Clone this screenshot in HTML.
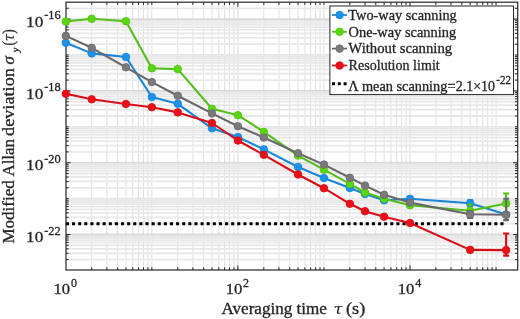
<!DOCTYPE html>
<html><head><meta charset="utf-8"><style>
html,body{margin:0;padding:0;background:#fff;}
body{width:520px;height:319px;overflow:hidden;position:relative;}
svg{position:absolute;left:0;top:0;}
</style></head><body>
<svg width="520" height="319" viewBox="0 0 520 319">
<rect x="0" y="0" width="520" height="319" fill="#fff"/>
<line x1="91.70" y1="2.2" x2="91.70" y2="270.0" stroke="#e0e0e0" stroke-width="1.0"/>
<line x1="106.86" y1="2.2" x2="106.86" y2="270.0" stroke="#e0e0e0" stroke-width="1.0"/>
<line x1="117.61" y1="2.2" x2="117.61" y2="270.0" stroke="#e0e0e0" stroke-width="1.0"/>
<line x1="125.95" y1="2.2" x2="125.95" y2="270.0" stroke="#e0e0e0" stroke-width="1.0"/>
<line x1="132.76" y1="2.2" x2="132.76" y2="270.0" stroke="#e0e0e0" stroke-width="1.0"/>
<line x1="138.52" y1="2.2" x2="138.52" y2="270.0" stroke="#e0e0e0" stroke-width="1.0"/>
<line x1="143.51" y1="2.2" x2="143.51" y2="270.0" stroke="#e0e0e0" stroke-width="1.0"/>
<line x1="147.91" y1="2.2" x2="147.91" y2="270.0" stroke="#e0e0e0" stroke-width="1.0"/>
<line x1="151.85" y1="2.2" x2="151.85" y2="270.0" stroke="#e0e0e0" stroke-width="1.0"/>
<line x1="177.75" y1="2.2" x2="177.75" y2="270.0" stroke="#e0e0e0" stroke-width="1.0"/>
<line x1="192.91" y1="2.2" x2="192.91" y2="270.0" stroke="#e0e0e0" stroke-width="1.0"/>
<line x1="203.66" y1="2.2" x2="203.66" y2="270.0" stroke="#e0e0e0" stroke-width="1.0"/>
<line x1="212.00" y1="2.2" x2="212.00" y2="270.0" stroke="#e0e0e0" stroke-width="1.0"/>
<line x1="218.81" y1="2.2" x2="218.81" y2="270.0" stroke="#e0e0e0" stroke-width="1.0"/>
<line x1="224.57" y1="2.2" x2="224.57" y2="270.0" stroke="#e0e0e0" stroke-width="1.0"/>
<line x1="229.56" y1="2.2" x2="229.56" y2="270.0" stroke="#e0e0e0" stroke-width="1.0"/>
<line x1="233.96" y1="2.2" x2="233.96" y2="270.0" stroke="#e0e0e0" stroke-width="1.0"/>
<line x1="237.90" y1="2.2" x2="237.90" y2="270.0" stroke="#dadada" stroke-width="1.0"/>
<line x1="263.80" y1="2.2" x2="263.80" y2="270.0" stroke="#e0e0e0" stroke-width="1.0"/>
<line x1="278.96" y1="2.2" x2="278.96" y2="270.0" stroke="#e0e0e0" stroke-width="1.0"/>
<line x1="289.71" y1="2.2" x2="289.71" y2="270.0" stroke="#e0e0e0" stroke-width="1.0"/>
<line x1="298.05" y1="2.2" x2="298.05" y2="270.0" stroke="#e0e0e0" stroke-width="1.0"/>
<line x1="304.86" y1="2.2" x2="304.86" y2="270.0" stroke="#e0e0e0" stroke-width="1.0"/>
<line x1="310.62" y1="2.2" x2="310.62" y2="270.0" stroke="#e0e0e0" stroke-width="1.0"/>
<line x1="315.61" y1="2.2" x2="315.61" y2="270.0" stroke="#e0e0e0" stroke-width="1.0"/>
<line x1="320.01" y1="2.2" x2="320.01" y2="270.0" stroke="#e0e0e0" stroke-width="1.0"/>
<line x1="323.95" y1="2.2" x2="323.95" y2="270.0" stroke="#e0e0e0" stroke-width="1.0"/>
<line x1="349.85" y1="2.2" x2="349.85" y2="270.0" stroke="#e0e0e0" stroke-width="1.0"/>
<line x1="365.01" y1="2.2" x2="365.01" y2="270.0" stroke="#e0e0e0" stroke-width="1.0"/>
<line x1="375.76" y1="2.2" x2="375.76" y2="270.0" stroke="#e0e0e0" stroke-width="1.0"/>
<line x1="384.10" y1="2.2" x2="384.10" y2="270.0" stroke="#e0e0e0" stroke-width="1.0"/>
<line x1="390.91" y1="2.2" x2="390.91" y2="270.0" stroke="#e0e0e0" stroke-width="1.0"/>
<line x1="396.67" y1="2.2" x2="396.67" y2="270.0" stroke="#e0e0e0" stroke-width="1.0"/>
<line x1="401.66" y1="2.2" x2="401.66" y2="270.0" stroke="#e0e0e0" stroke-width="1.0"/>
<line x1="406.06" y1="2.2" x2="406.06" y2="270.0" stroke="#e0e0e0" stroke-width="1.0"/>
<line x1="410.00" y1="2.2" x2="410.00" y2="270.0" stroke="#dadada" stroke-width="1.0"/>
<line x1="435.90" y1="2.2" x2="435.90" y2="270.0" stroke="#e0e0e0" stroke-width="1.0"/>
<line x1="451.06" y1="2.2" x2="451.06" y2="270.0" stroke="#e0e0e0" stroke-width="1.0"/>
<line x1="461.81" y1="2.2" x2="461.81" y2="270.0" stroke="#e0e0e0" stroke-width="1.0"/>
<line x1="470.15" y1="2.2" x2="470.15" y2="270.0" stroke="#e0e0e0" stroke-width="1.0"/>
<line x1="476.96" y1="2.2" x2="476.96" y2="270.0" stroke="#e0e0e0" stroke-width="1.0"/>
<line x1="482.72" y1="2.2" x2="482.72" y2="270.0" stroke="#e0e0e0" stroke-width="1.0"/>
<line x1="487.71" y1="2.2" x2="487.71" y2="270.0" stroke="#e0e0e0" stroke-width="1.0"/>
<line x1="492.11" y1="2.2" x2="492.11" y2="270.0" stroke="#e0e0e0" stroke-width="1.0"/>
<line x1="496.05" y1="2.2" x2="496.05" y2="270.0" stroke="#e0e0e0" stroke-width="1.0"/>
<line x1="66.0" y1="259.59" x2="517.7" y2="259.59" stroke="#e8e8e8" stroke-width="1.8"/>
<line x1="66.0" y1="253.27" x2="517.7" y2="253.27" stroke="#e8e8e8" stroke-width="1.8"/>
<line x1="66.0" y1="248.79" x2="517.7" y2="248.79" stroke="#e8e8e8" stroke-width="1.8"/>
<line x1="66.0" y1="245.31" x2="517.7" y2="245.31" stroke="#e8e8e8" stroke-width="1.8"/>
<line x1="66.0" y1="242.46" x2="517.7" y2="242.46" stroke="#e8e8e8" stroke-width="1.8"/>
<line x1="66.0" y1="240.06" x2="517.7" y2="240.06" stroke="#e8e8e8" stroke-width="1.8"/>
<line x1="66.0" y1="237.98" x2="517.7" y2="237.98" stroke="#e8e8e8" stroke-width="1.8"/>
<line x1="66.0" y1="236.14" x2="517.7" y2="236.14" stroke="#e8e8e8" stroke-width="1.8"/>
<line x1="66.0" y1="234.50" x2="517.7" y2="234.50" stroke="#dadada" stroke-width="1.8"/>
<line x1="66.0" y1="223.69" x2="517.7" y2="223.69" stroke="#e8e8e8" stroke-width="1.8"/>
<line x1="66.0" y1="217.37" x2="517.7" y2="217.37" stroke="#e8e8e8" stroke-width="1.8"/>
<line x1="66.0" y1="212.89" x2="517.7" y2="212.89" stroke="#e8e8e8" stroke-width="1.8"/>
<line x1="66.0" y1="209.41" x2="517.7" y2="209.41" stroke="#e8e8e8" stroke-width="1.8"/>
<line x1="66.0" y1="206.56" x2="517.7" y2="206.56" stroke="#e8e8e8" stroke-width="1.8"/>
<line x1="66.0" y1="204.16" x2="517.7" y2="204.16" stroke="#e8e8e8" stroke-width="1.8"/>
<line x1="66.0" y1="202.08" x2="517.7" y2="202.08" stroke="#e8e8e8" stroke-width="1.8"/>
<line x1="66.0" y1="200.24" x2="517.7" y2="200.24" stroke="#e8e8e8" stroke-width="1.8"/>
<line x1="66.0" y1="198.60" x2="517.7" y2="198.60" stroke="#e8e8e8" stroke-width="1.8"/>
<line x1="66.0" y1="187.79" x2="517.7" y2="187.79" stroke="#e8e8e8" stroke-width="1.8"/>
<line x1="66.0" y1="181.47" x2="517.7" y2="181.47" stroke="#e8e8e8" stroke-width="1.8"/>
<line x1="66.0" y1="176.99" x2="517.7" y2="176.99" stroke="#e8e8e8" stroke-width="1.8"/>
<line x1="66.0" y1="173.51" x2="517.7" y2="173.51" stroke="#e8e8e8" stroke-width="1.8"/>
<line x1="66.0" y1="170.66" x2="517.7" y2="170.66" stroke="#e8e8e8" stroke-width="1.8"/>
<line x1="66.0" y1="168.26" x2="517.7" y2="168.26" stroke="#e8e8e8" stroke-width="1.8"/>
<line x1="66.0" y1="166.18" x2="517.7" y2="166.18" stroke="#e8e8e8" stroke-width="1.8"/>
<line x1="66.0" y1="164.34" x2="517.7" y2="164.34" stroke="#e8e8e8" stroke-width="1.8"/>
<line x1="66.0" y1="162.70" x2="517.7" y2="162.70" stroke="#dadada" stroke-width="1.8"/>
<line x1="66.0" y1="151.89" x2="517.7" y2="151.89" stroke="#e8e8e8" stroke-width="1.8"/>
<line x1="66.0" y1="145.57" x2="517.7" y2="145.57" stroke="#e8e8e8" stroke-width="1.8"/>
<line x1="66.0" y1="141.09" x2="517.7" y2="141.09" stroke="#e8e8e8" stroke-width="1.8"/>
<line x1="66.0" y1="137.61" x2="517.7" y2="137.61" stroke="#e8e8e8" stroke-width="1.8"/>
<line x1="66.0" y1="134.76" x2="517.7" y2="134.76" stroke="#e8e8e8" stroke-width="1.8"/>
<line x1="66.0" y1="132.36" x2="517.7" y2="132.36" stroke="#e8e8e8" stroke-width="1.8"/>
<line x1="66.0" y1="130.28" x2="517.7" y2="130.28" stroke="#e8e8e8" stroke-width="1.8"/>
<line x1="66.0" y1="128.44" x2="517.7" y2="128.44" stroke="#e8e8e8" stroke-width="1.8"/>
<line x1="66.0" y1="126.80" x2="517.7" y2="126.80" stroke="#e8e8e8" stroke-width="1.8"/>
<line x1="66.0" y1="115.99" x2="517.7" y2="115.99" stroke="#e8e8e8" stroke-width="1.8"/>
<line x1="66.0" y1="109.67" x2="517.7" y2="109.67" stroke="#e8e8e8" stroke-width="1.8"/>
<line x1="66.0" y1="105.19" x2="517.7" y2="105.19" stroke="#e8e8e8" stroke-width="1.8"/>
<line x1="66.0" y1="101.71" x2="517.7" y2="101.71" stroke="#e8e8e8" stroke-width="1.8"/>
<line x1="66.0" y1="98.86" x2="517.7" y2="98.86" stroke="#e8e8e8" stroke-width="1.8"/>
<line x1="66.0" y1="96.46" x2="517.7" y2="96.46" stroke="#e8e8e8" stroke-width="1.8"/>
<line x1="66.0" y1="94.38" x2="517.7" y2="94.38" stroke="#e8e8e8" stroke-width="1.8"/>
<line x1="66.0" y1="92.54" x2="517.7" y2="92.54" stroke="#e8e8e8" stroke-width="1.8"/>
<line x1="66.0" y1="90.90" x2="517.7" y2="90.90" stroke="#dadada" stroke-width="1.8"/>
<line x1="66.0" y1="80.09" x2="517.7" y2="80.09" stroke="#e8e8e8" stroke-width="1.8"/>
<line x1="66.0" y1="73.77" x2="517.7" y2="73.77" stroke="#e8e8e8" stroke-width="1.8"/>
<line x1="66.0" y1="69.29" x2="517.7" y2="69.29" stroke="#e8e8e8" stroke-width="1.8"/>
<line x1="66.0" y1="65.81" x2="517.7" y2="65.81" stroke="#e8e8e8" stroke-width="1.8"/>
<line x1="66.0" y1="62.96" x2="517.7" y2="62.96" stroke="#e8e8e8" stroke-width="1.8"/>
<line x1="66.0" y1="60.56" x2="517.7" y2="60.56" stroke="#e8e8e8" stroke-width="1.8"/>
<line x1="66.0" y1="58.48" x2="517.7" y2="58.48" stroke="#e8e8e8" stroke-width="1.8"/>
<line x1="66.0" y1="56.64" x2="517.7" y2="56.64" stroke="#e8e8e8" stroke-width="1.8"/>
<line x1="66.0" y1="55.00" x2="517.7" y2="55.00" stroke="#e8e8e8" stroke-width="1.8"/>
<line x1="66.0" y1="44.19" x2="517.7" y2="44.19" stroke="#e8e8e8" stroke-width="1.8"/>
<line x1="66.0" y1="37.87" x2="517.7" y2="37.87" stroke="#e8e8e8" stroke-width="1.8"/>
<line x1="66.0" y1="33.39" x2="517.7" y2="33.39" stroke="#e8e8e8" stroke-width="1.8"/>
<line x1="66.0" y1="29.91" x2="517.7" y2="29.91" stroke="#e8e8e8" stroke-width="1.8"/>
<line x1="66.0" y1="27.06" x2="517.7" y2="27.06" stroke="#e8e8e8" stroke-width="1.8"/>
<line x1="66.0" y1="24.66" x2="517.7" y2="24.66" stroke="#e8e8e8" stroke-width="1.8"/>
<line x1="66.0" y1="22.58" x2="517.7" y2="22.58" stroke="#e8e8e8" stroke-width="1.8"/>
<line x1="66.0" y1="20.74" x2="517.7" y2="20.74" stroke="#e8e8e8" stroke-width="1.8"/>
<line x1="66.0" y1="19.10" x2="517.7" y2="19.10" stroke="#dadada" stroke-width="1.8"/>
<line x1="66.0" y1="8.29" x2="517.7" y2="8.29" stroke="#e8e8e8" stroke-width="1.8"/>
<path d="M91.70 270.0v-2.7M91.70 2.2v2.7M106.86 270.0v-2.7M106.86 2.2v2.7M117.61 270.0v-2.7M117.61 2.2v2.7M125.95 270.0v-2.7M125.95 2.2v2.7M132.76 270.0v-2.7M132.76 2.2v2.7M138.52 270.0v-2.7M138.52 2.2v2.7M143.51 270.0v-2.7M143.51 2.2v2.7M147.91 270.0v-2.7M147.91 2.2v2.7M151.85 270.0v-2.7M151.85 2.2v2.7M177.75 270.0v-2.7M177.75 2.2v2.7M192.91 270.0v-2.7M192.91 2.2v2.7M203.66 270.0v-2.7M203.66 2.2v2.7M212.00 270.0v-2.7M212.00 2.2v2.7M218.81 270.0v-2.7M218.81 2.2v2.7M224.57 270.0v-2.7M224.57 2.2v2.7M229.56 270.0v-2.7M229.56 2.2v2.7M233.96 270.0v-2.7M233.96 2.2v2.7M237.90 270.0v-4.5M237.90 2.2v4.5M263.80 270.0v-2.7M263.80 2.2v2.7M278.96 270.0v-2.7M278.96 2.2v2.7M289.71 270.0v-2.7M289.71 2.2v2.7M298.05 270.0v-2.7M298.05 2.2v2.7M304.86 270.0v-2.7M304.86 2.2v2.7M310.62 270.0v-2.7M310.62 2.2v2.7M315.61 270.0v-2.7M315.61 2.2v2.7M320.01 270.0v-2.7M320.01 2.2v2.7M323.95 270.0v-2.7M323.95 2.2v2.7M349.85 270.0v-2.7M349.85 2.2v2.7M365.01 270.0v-2.7M365.01 2.2v2.7M375.76 270.0v-2.7M375.76 2.2v2.7M384.10 270.0v-2.7M384.10 2.2v2.7M390.91 270.0v-2.7M390.91 2.2v2.7M396.67 270.0v-2.7M396.67 2.2v2.7M401.66 270.0v-2.7M401.66 2.2v2.7M406.06 270.0v-2.7M406.06 2.2v2.7M410.00 270.0v-4.5M410.00 2.2v4.5M435.90 270.0v-2.7M435.90 2.2v2.7M451.06 270.0v-2.7M451.06 2.2v2.7M461.81 270.0v-2.7M461.81 2.2v2.7M470.15 270.0v-2.7M470.15 2.2v2.7M476.96 270.0v-2.7M476.96 2.2v2.7M482.72 270.0v-2.7M482.72 2.2v2.7M487.71 270.0v-2.7M487.71 2.2v2.7M492.11 270.0v-2.7M492.11 2.2v2.7M496.05 270.0v-2.7M496.05 2.2v2.7M66.0 259.59h2.7M517.7 259.59h-2.7M66.0 253.27h2.7M517.7 253.27h-2.7M66.0 248.79h2.7M517.7 248.79h-2.7M66.0 245.31h2.7M517.7 245.31h-2.7M66.0 242.46h2.7M517.7 242.46h-2.7M66.0 240.06h2.7M517.7 240.06h-2.7M66.0 237.98h2.7M517.7 237.98h-2.7M66.0 236.14h2.7M517.7 236.14h-2.7M66.0 234.50h4.5M517.7 234.50h-4.5M66.0 223.69h2.7M517.7 223.69h-2.7M66.0 217.37h2.7M517.7 217.37h-2.7M66.0 212.89h2.7M517.7 212.89h-2.7M66.0 209.41h2.7M517.7 209.41h-2.7M66.0 206.56h2.7M517.7 206.56h-2.7M66.0 204.16h2.7M517.7 204.16h-2.7M66.0 202.08h2.7M517.7 202.08h-2.7M66.0 200.24h2.7M517.7 200.24h-2.7M66.0 198.60h2.7M517.7 198.60h-2.7M66.0 187.79h2.7M517.7 187.79h-2.7M66.0 181.47h2.7M517.7 181.47h-2.7M66.0 176.99h2.7M517.7 176.99h-2.7M66.0 173.51h2.7M517.7 173.51h-2.7M66.0 170.66h2.7M517.7 170.66h-2.7M66.0 168.26h2.7M517.7 168.26h-2.7M66.0 166.18h2.7M517.7 166.18h-2.7M66.0 164.34h2.7M517.7 164.34h-2.7M66.0 162.70h4.5M517.7 162.70h-4.5M66.0 151.89h2.7M517.7 151.89h-2.7M66.0 145.57h2.7M517.7 145.57h-2.7M66.0 141.09h2.7M517.7 141.09h-2.7M66.0 137.61h2.7M517.7 137.61h-2.7M66.0 134.76h2.7M517.7 134.76h-2.7M66.0 132.36h2.7M517.7 132.36h-2.7M66.0 130.28h2.7M517.7 130.28h-2.7M66.0 128.44h2.7M517.7 128.44h-2.7M66.0 126.80h2.7M517.7 126.80h-2.7M66.0 115.99h2.7M517.7 115.99h-2.7M66.0 109.67h2.7M517.7 109.67h-2.7M66.0 105.19h2.7M517.7 105.19h-2.7M66.0 101.71h2.7M517.7 101.71h-2.7M66.0 98.86h2.7M517.7 98.86h-2.7M66.0 96.46h2.7M517.7 96.46h-2.7M66.0 94.38h2.7M517.7 94.38h-2.7M66.0 92.54h2.7M517.7 92.54h-2.7M66.0 90.90h4.5M517.7 90.90h-4.5M66.0 80.09h2.7M517.7 80.09h-2.7M66.0 73.77h2.7M517.7 73.77h-2.7M66.0 69.29h2.7M517.7 69.29h-2.7M66.0 65.81h2.7M517.7 65.81h-2.7M66.0 62.96h2.7M517.7 62.96h-2.7M66.0 60.56h2.7M517.7 60.56h-2.7M66.0 58.48h2.7M517.7 58.48h-2.7M66.0 56.64h2.7M517.7 56.64h-2.7M66.0 55.00h2.7M517.7 55.00h-2.7M66.0 44.19h2.7M517.7 44.19h-2.7M66.0 37.87h2.7M517.7 37.87h-2.7M66.0 33.39h2.7M517.7 33.39h-2.7M66.0 29.91h2.7M517.7 29.91h-2.7M66.0 27.06h2.7M517.7 27.06h-2.7M66.0 24.66h2.7M517.7 24.66h-2.7M66.0 22.58h2.7M517.7 22.58h-2.7M66.0 20.74h2.7M517.7 20.74h-2.7M66.0 19.10h4.5M517.7 19.10h-4.5M66.0 8.29h2.7M517.7 8.29h-2.7" stroke="#262626" stroke-width="1" fill="none"/>
<rect x="66.0" y="2.2" width="451.70" height="267.80" fill="none" stroke="#262626" stroke-width="1.2"/>
<line x1="65.9" y1="223.7" x2="503.5" y2="223.7" stroke="#000" stroke-width="3.1" stroke-dasharray="3.1 3.02"/>
<polyline points="65.80,42.80 91.70,53.40 125.95,57.00 151.85,97.00 177.75,103.80 212.00,128.30 237.90,137.00 263.80,149.40 298.05,167.00 323.95,178.00 349.85,188.00 365.01,194.00 384.10,200.30 410.00,198.80 470.15,203.30 506.14,214.50" fill="none" stroke="#1785d8" stroke-width="2.1" stroke-linejoin="round"/><path d="M470.15 200.3V206.3M467.15 200.3h6M467.15 206.3h6" stroke="#1785d8" stroke-width="2.1" fill="none"/><circle cx="65.80" cy="42.80" r="3.8000000000000003" fill="#1a91eb" stroke="#1785d8" stroke-width="0.8"/><circle cx="91.70" cy="53.40" r="3.8000000000000003" fill="#1a91eb" stroke="#1785d8" stroke-width="0.8"/><circle cx="125.95" cy="57.00" r="3.8000000000000003" fill="#1a91eb" stroke="#1785d8" stroke-width="0.8"/><circle cx="151.85" cy="97.00" r="3.8000000000000003" fill="#1a91eb" stroke="#1785d8" stroke-width="0.8"/><circle cx="177.75" cy="103.80" r="3.8000000000000003" fill="#1a91eb" stroke="#1785d8" stroke-width="0.8"/><circle cx="212.00" cy="128.30" r="3.8000000000000003" fill="#1a91eb" stroke="#1785d8" stroke-width="0.8"/><circle cx="237.90" cy="137.00" r="3.8000000000000003" fill="#1a91eb" stroke="#1785d8" stroke-width="0.8"/><circle cx="263.80" cy="149.40" r="3.8000000000000003" fill="#1a91eb" stroke="#1785d8" stroke-width="0.8"/><circle cx="298.05" cy="167.00" r="3.8000000000000003" fill="#1a91eb" stroke="#1785d8" stroke-width="0.8"/><circle cx="323.95" cy="178.00" r="3.8000000000000003" fill="#1a91eb" stroke="#1785d8" stroke-width="0.8"/><circle cx="349.85" cy="188.00" r="3.8000000000000003" fill="#1a91eb" stroke="#1785d8" stroke-width="0.8"/><circle cx="365.01" cy="194.00" r="3.8000000000000003" fill="#1a91eb" stroke="#1785d8" stroke-width="0.8"/><circle cx="384.10" cy="200.30" r="3.8000000000000003" fill="#1a91eb" stroke="#1785d8" stroke-width="0.8"/><circle cx="410.00" cy="198.80" r="3.8000000000000003" fill="#1a91eb" stroke="#1785d8" stroke-width="0.8"/><circle cx="470.15" cy="203.30" r="3.8000000000000003" fill="#1a91eb" stroke="#1785d8" stroke-width="0.8"/><circle cx="506.14" cy="214.50" r="3.8000000000000003" fill="#1a91eb" stroke="#1785d8" stroke-width="0.8"/>
<polyline points="65.80,21.50 91.70,18.80 125.95,21.20 151.85,68.30 177.75,69.10 212.00,108.70 237.90,115.20 263.80,131.90 298.05,155.60 323.95,169.70 349.85,183.90 365.01,192.50 384.10,198.70 410.00,205.20 470.15,210.80 506.14,203.50" fill="none" stroke="#52c018" stroke-width="2.1" stroke-linejoin="round"/><path d="M506.14 193.5V213.5M503.14 193.5h6M503.14 213.5h6" stroke="#52c018" stroke-width="2.1" fill="none"/><path d="M470.15 204.6V217.3M467.15 204.6h6M467.15 217.3h6" stroke="#52c018" stroke-width="2.1" fill="none"/><circle cx="65.80" cy="21.50" r="3.8000000000000003" fill="#58d80c" stroke="#52c018" stroke-width="0.8"/><circle cx="91.70" cy="18.80" r="3.8000000000000003" fill="#58d80c" stroke="#52c018" stroke-width="0.8"/><circle cx="125.95" cy="21.20" r="3.8000000000000003" fill="#58d80c" stroke="#52c018" stroke-width="0.8"/><circle cx="151.85" cy="68.30" r="3.8000000000000003" fill="#58d80c" stroke="#52c018" stroke-width="0.8"/><circle cx="177.75" cy="69.10" r="3.8000000000000003" fill="#58d80c" stroke="#52c018" stroke-width="0.8"/><circle cx="212.00" cy="108.70" r="3.8000000000000003" fill="#58d80c" stroke="#52c018" stroke-width="0.8"/><circle cx="237.90" cy="115.20" r="3.8000000000000003" fill="#58d80c" stroke="#52c018" stroke-width="0.8"/><circle cx="263.80" cy="131.90" r="3.8000000000000003" fill="#58d80c" stroke="#52c018" stroke-width="0.8"/><circle cx="298.05" cy="155.60" r="3.8000000000000003" fill="#58d80c" stroke="#52c018" stroke-width="0.8"/><circle cx="323.95" cy="169.70" r="3.8000000000000003" fill="#58d80c" stroke="#52c018" stroke-width="0.8"/><circle cx="349.85" cy="183.90" r="3.8000000000000003" fill="#58d80c" stroke="#52c018" stroke-width="0.8"/><circle cx="365.01" cy="192.50" r="3.8000000000000003" fill="#58d80c" stroke="#52c018" stroke-width="0.8"/><circle cx="384.10" cy="198.70" r="3.8000000000000003" fill="#58d80c" stroke="#52c018" stroke-width="0.8"/><circle cx="410.00" cy="205.20" r="3.8000000000000003" fill="#58d80c" stroke="#52c018" stroke-width="0.8"/><circle cx="470.15" cy="210.80" r="3.8000000000000003" fill="#58d80c" stroke="#52c018" stroke-width="0.8"/><circle cx="506.14" cy="203.50" r="3.8000000000000003" fill="#58d80c" stroke="#52c018" stroke-width="0.8"/>
<polyline points="65.80,35.90 91.70,47.80 125.95,67.30 151.85,82.10 177.75,95.80 212.00,113.40 237.90,126.20 263.80,137.50 298.05,153.20 323.95,164.60 349.85,177.80 365.01,185.60 384.10,194.80 410.00,202.60 470.15,214.30 506.14,214.80" fill="none" stroke="#68686c" stroke-width="2.1" stroke-linejoin="round"/><path d="M506.14 198.7V220.1M503.14 198.7h6M503.14 220.1h6" stroke="#68686c" stroke-width="2.1" fill="none"/><path d="M470.15 211V218M467.15 211h6M467.15 218h6" stroke="#68686c" stroke-width="2.1" fill="none"/><circle cx="65.80" cy="35.90" r="3.8000000000000003" fill="#7a7a7a" stroke="#68686c" stroke-width="0.8"/><circle cx="91.70" cy="47.80" r="3.8000000000000003" fill="#7a7a7a" stroke="#68686c" stroke-width="0.8"/><circle cx="125.95" cy="67.30" r="3.8000000000000003" fill="#7a7a7a" stroke="#68686c" stroke-width="0.8"/><circle cx="151.85" cy="82.10" r="3.8000000000000003" fill="#7a7a7a" stroke="#68686c" stroke-width="0.8"/><circle cx="177.75" cy="95.80" r="3.8000000000000003" fill="#7a7a7a" stroke="#68686c" stroke-width="0.8"/><circle cx="212.00" cy="113.40" r="3.8000000000000003" fill="#7a7a7a" stroke="#68686c" stroke-width="0.8"/><circle cx="237.90" cy="126.20" r="3.8000000000000003" fill="#7a7a7a" stroke="#68686c" stroke-width="0.8"/><circle cx="263.80" cy="137.50" r="3.8000000000000003" fill="#7a7a7a" stroke="#68686c" stroke-width="0.8"/><circle cx="298.05" cy="153.20" r="3.8000000000000003" fill="#7a7a7a" stroke="#68686c" stroke-width="0.8"/><circle cx="323.95" cy="164.60" r="3.8000000000000003" fill="#7a7a7a" stroke="#68686c" stroke-width="0.8"/><circle cx="349.85" cy="177.80" r="3.8000000000000003" fill="#7a7a7a" stroke="#68686c" stroke-width="0.8"/><circle cx="365.01" cy="185.60" r="3.8000000000000003" fill="#7a7a7a" stroke="#68686c" stroke-width="0.8"/><circle cx="384.10" cy="194.80" r="3.8000000000000003" fill="#7a7a7a" stroke="#68686c" stroke-width="0.8"/><circle cx="410.00" cy="202.60" r="3.8000000000000003" fill="#7a7a7a" stroke="#68686c" stroke-width="0.8"/><circle cx="470.15" cy="214.30" r="3.8000000000000003" fill="#7a7a7a" stroke="#68686c" stroke-width="0.8"/><circle cx="506.14" cy="214.80" r="3.8000000000000003" fill="#7a7a7a" stroke="#68686c" stroke-width="0.8"/>
<polyline points="65.80,93.80 91.70,99.30 125.95,104.00 151.85,107.20 177.75,112.40 212.00,123.00 237.90,140.50 263.80,154.80 298.05,174.50 323.95,188.20 349.85,203.80 365.01,211.20 384.10,216.70 410.00,223.00 470.15,249.90 506.14,250.10" fill="none" stroke="#dc0c16" stroke-width="2.1" stroke-linejoin="round"/><path d="M506.14 233.5V255.6M503.14 233.5h6M503.14 255.6h6" stroke="#dc0c16" stroke-width="2.1" fill="none"/><circle cx="65.80" cy="93.80" r="3.8000000000000003" fill="#ea0f16" stroke="#dc0c16" stroke-width="0.8"/><circle cx="91.70" cy="99.30" r="3.8000000000000003" fill="#ea0f16" stroke="#dc0c16" stroke-width="0.8"/><circle cx="125.95" cy="104.00" r="3.8000000000000003" fill="#ea0f16" stroke="#dc0c16" stroke-width="0.8"/><circle cx="151.85" cy="107.20" r="3.8000000000000003" fill="#ea0f16" stroke="#dc0c16" stroke-width="0.8"/><circle cx="177.75" cy="112.40" r="3.8000000000000003" fill="#ea0f16" stroke="#dc0c16" stroke-width="0.8"/><circle cx="212.00" cy="123.00" r="3.8000000000000003" fill="#ea0f16" stroke="#dc0c16" stroke-width="0.8"/><circle cx="237.90" cy="140.50" r="3.8000000000000003" fill="#ea0f16" stroke="#dc0c16" stroke-width="0.8"/><circle cx="263.80" cy="154.80" r="3.8000000000000003" fill="#ea0f16" stroke="#dc0c16" stroke-width="0.8"/><circle cx="298.05" cy="174.50" r="3.8000000000000003" fill="#ea0f16" stroke="#dc0c16" stroke-width="0.8"/><circle cx="323.95" cy="188.20" r="3.8000000000000003" fill="#ea0f16" stroke="#dc0c16" stroke-width="0.8"/><circle cx="349.85" cy="203.80" r="3.8000000000000003" fill="#ea0f16" stroke="#dc0c16" stroke-width="0.8"/><circle cx="365.01" cy="211.20" r="3.8000000000000003" fill="#ea0f16" stroke="#dc0c16" stroke-width="0.8"/><circle cx="384.10" cy="216.70" r="3.8000000000000003" fill="#ea0f16" stroke="#dc0c16" stroke-width="0.8"/><circle cx="410.00" cy="223.00" r="3.8000000000000003" fill="#ea0f16" stroke="#dc0c16" stroke-width="0.8"/><circle cx="470.15" cy="249.90" r="3.8000000000000003" fill="#ea0f16" stroke="#dc0c16" stroke-width="0.8"/><circle cx="506.14" cy="250.10" r="3.8000000000000003" fill="#ea0f16" stroke="#dc0c16" stroke-width="0.8"/>
<rect x="329.9" y="6" width="183.6" height="88.6" fill="#fff" stroke="#262626" stroke-width="1"/>
<line x1="332" y1="15" x2="347" y2="15" stroke="#1785d8" stroke-width="1.7"/><circle cx="339.6" cy="15" r="3.8000000000000003" fill="#1a91eb" stroke="#1785d8" stroke-width="0.8"/>
<line x1="332" y1="31.8" x2="347" y2="31.8" stroke="#52c018" stroke-width="1.7"/><circle cx="339.6" cy="31.8" r="3.8000000000000003" fill="#58d80c" stroke="#52c018" stroke-width="0.8"/>
<line x1="332" y1="48.6" x2="347" y2="48.6" stroke="#68686c" stroke-width="1.7"/><circle cx="339.6" cy="48.6" r="3.8000000000000003" fill="#7a7a7a" stroke="#68686c" stroke-width="0.8"/>
<line x1="332" y1="65.5" x2="347" y2="65.5" stroke="#dc0c16" stroke-width="1.7"/><circle cx="339.6" cy="65.5" r="3.8000000000000003" fill="#ea0f16" stroke="#dc0c16" stroke-width="0.8"/>
<line x1="332" y1="83.8" x2="347" y2="83.8" stroke="#000" stroke-width="3" stroke-dasharray="3 2.8"/>
<g font-family="'Liberation Serif', serif" fill="#262626" stroke="#262626" stroke-width="0.3">
<text transform="translate(53.53,293.70) scale(1.0714,1)" font-size="15.5" >10</text>
<text transform="translate(71.00,286.70) scale(1.0000,1)" font-size="12" >0</text>
<text transform="translate(225.63,293.70) scale(1.0714,1)" font-size="15.5" >10</text>
<text transform="translate(243.10,286.70) scale(1.0000,1)" font-size="12" >2</text>
<text transform="translate(397.73,293.70) scale(1.0714,1)" font-size="15.5" >10</text>
<text transform="translate(415.20,286.70) scale(1.0000,1)" font-size="12" >4</text>
<text transform="translate(26.09,26.70) scale(1.1071,1)" font-size="15.5" >10</text>
<text transform="translate(44.20,19.40) scale(1.0312,1)" font-size="12" >-16</text>
<text transform="translate(26.09,98.50) scale(1.1071,1)" font-size="15.5" >10</text>
<text transform="translate(44.20,91.20) scale(1.0312,1)" font-size="12" >-18</text>
<text transform="translate(26.09,170.30) scale(1.1071,1)" font-size="15.5" >10</text>
<text transform="translate(44.20,163.00) scale(1.0312,1)" font-size="12" >-20</text>
<text transform="translate(26.09,242.10) scale(1.1071,1)" font-size="15.5" >10</text>
<text transform="translate(44.20,234.80) scale(1.0312,1)" font-size="12" >-22</text>
<text transform="translate(348.30,20.00) scale(1.0245,1)" font-size="14" >Two-way scanning</text>
<text transform="translate(348.60,36.70) scale(1.0288,1)" font-size="14" >One-way scanning</text>
<text transform="translate(348.30,53.40) scale(1.0551,1)" font-size="14" >Without scanning</text>
<text transform="translate(348.60,70.10) scale(1.0066,1)" font-size="14" >Resolution limit</text>
<text transform="translate(348.30,91.00) scale(1.0240,1)" font-size="14" >Λ mean scanning=</text>
<text transform="translate(455.80,91.00) scale(0.9949,1)" font-size="14" >2.1×10</text>
<text transform="translate(496.20,84.20) scale(0.9733,1)" font-size="11.5" >-22</text>
<text transform="translate(221.50,313.50) scale(1.0876,1)" font-size="15.7" >Averaging time</text>
<text transform="translate(333.55,313.50) scale(1.0500,1)" font-size="15.7" font-style="italic" stroke-width="0.1" font-family="&quot;DejaVu Serif&quot;, serif">τ</text>
<text transform="translate(346.00,313.50) scale(1.1625,1)" font-size="15.7" >(s)</text>
<text transform="translate(13.60,243.60) rotate(-90) scale(1.0845,1)" font-size="15.7" >Modified</text>
<text transform="translate(13.60,176.60) rotate(-90) scale(1.0794,1)" font-size="15.7" >Allan</text>
<text transform="translate(13.60,136.00) rotate(-90) scale(1.1638,1)" font-size="15.7" >deviation</text>
<text transform="translate(13.60,64.40) rotate(-90) scale(1.0750,1)" font-size="15.7" font-style="italic">σ</text>
<text transform="translate(19.30,52.32) rotate(-90) scale(1.0800,1)" font-size="9.5" font-style="italic">y</text>
<text transform="translate(13.60,45.60) rotate(-90) scale(0.8526,1)" font-size="15.7" >(<tspan font-family="DejaVu Serif" font-style="italic" stroke-width="0.1">τ</tspan>)</text>
</g>
</svg>
</body></html>
